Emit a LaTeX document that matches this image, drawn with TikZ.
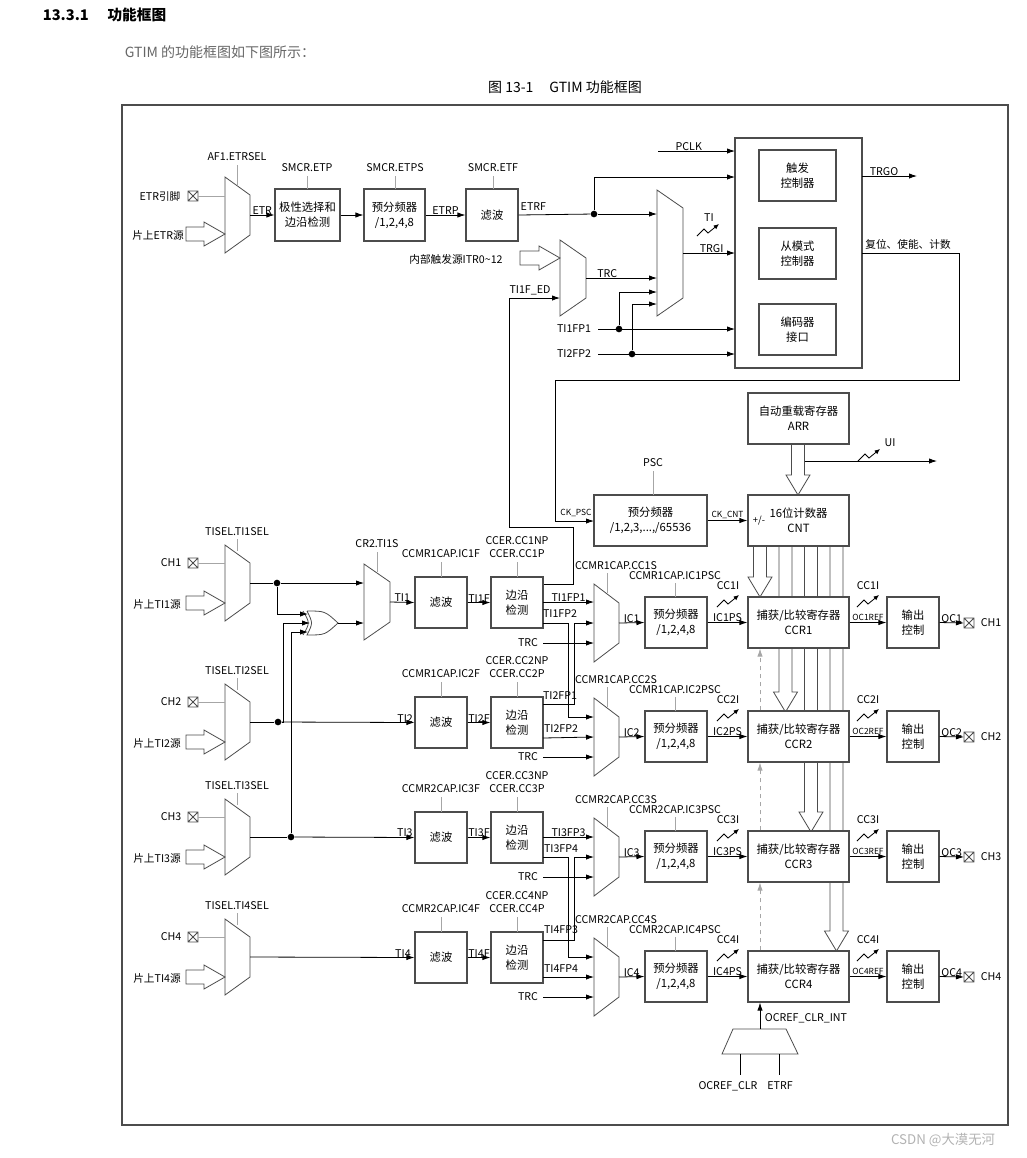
\documentclass[tikz,border=0pt]{standalone}
\usepackage{fontspec}
\setmainfont{Noto Sans CJK SC}
\usetikzlibrary{arrows.meta}
\newcommand\bx[6]{\node[box,minimum width={0.75pt*((#4)-(#2))},minimum height={0.75pt*((#5)-(#3))}] (#1) at ({((#2)+(#4))/2},{((#3)+(#5))/2}) {#6};}
\newcommand\mx[6]{\draw[muxs] (#2,#4-#5)--(#3,#4-#6)--(#3,#4+#6)--(#2,#4+#5)--cycle; \coordinate (#1) at ({(#2+#3)/2},#4);}
\newcommand\pinb[2]{\draw[gray!60!black] (#1-5,#2-5) rectangle (#1+5,#2+5) (#1-5,#2-5)--(#1+5,#2+5) (#1-5,#2+5)--(#1+5,#2-5);}
\newcommand\hha[3]{\draw[gray!60!black,fill=white] (#1,#3-7)--(#2-21,#3-7)--(#2-21,#3-12)--(#2,#3)--(#2-21,#3+12)--(#2-21,#3+7)--(#1,#3+7)--cycle;}
\newcommand\vha[4]{\draw[gray!60!black,fill=white] (#1-6.5,#2)--(#1-6.5,#3-20)--(#1-12,#3-20)--(#1,#3)--(#1+12,#3-20)--(#1+6.5,#3-20)--(#1+6.5,#2);}
\newcommand\bolt[2]{\draw[-{Latex[length=4pt,width=3.5pt]}] (#1,#2)--(#1+7,#2-7)--(#1+11,#2-3)--(#1+22,#2-12);}
\newcommand\tisel[2]{%
 \mx{ts#1}{225}{250}{#2}{38}{20}
 \node[lab] at (237,#2-51) {TISEL.TI#1SEL};
 \draw[sel] (237,#2-44)--(237,#2-32);
 \node[lab] at (171,#2-20) {CH#1}; \pinb{193}{#2-20}
 \draw[sel] (198,#2-20)--(225,#2-20);
 \hha{186}{225}{#2+20}
 \node[lab] at (157,#2+21) {片上TI#1源};}
\newcommand\icrow[4]{% n, yc, filter top, CCMR prefix
 \bx{flt#1}{415}{#3}{467}{#3+51}{滤波}
 \node[lab] at (441,#3-23) {#4.IC#1F}; \draw[sel] (441,#3-15)--(441,#3);
 \bx{edg#1}{491}{#3}{543}{#3+51}{边沿\\检测}
 \node[lab] at (517,#3-36) {CCER.CC#1NP}; \node[lab] at (517,#3-23) {CCER.CC#1P};
 \draw[sel] (517,#3-15)--(517,#3);
 \draw[ar] (flt#1.east)--(edg#1.west) node[lab,pos=.5,above=-1pt] {TI#1F};
 \mx{icm#1}{594}{619}{#2}{39}{20}
 \node[lab] at (616,#2-57) {#4.CC#1S}; \draw[sel] (607,#2-50)--(607,#2-30);
 \node[lab] at (528,#2+20) {TRC}; \draw[ar] (543,#2+20)--(594,#2+20);
 \bx{psc#1}{645}{#2-26}{707}{#2+25}{预分频器\\/1,2,4,8}
 \node[lab] at (675,#2-47) {#4.IC#1PSC}; \draw[sel] (675,#2-40)--(675,#2-26);
 \draw[ar] (619,#2)--(psc#1.west) node[lab,pos=.5,above=-1pt] {IC#1};
 \bx{ccr#1}{748}{#2-26}{849}{#2+25}{捕获/比较寄存器\\CCR#1}
 \draw[ar] (psc#1.east)--(ccr#1.west) node[lab,pos=.5,above=-1pt] {IC#1PS};
 \bolt{717}{#2-16} \node[lab] at (728,#2-37) {CC#1I};
 \bx{out#1}{887}{#2-26}{939}{#2+25}{输出\\控制}
 \draw[ar] (ccr#1.east)--(out#1.west) node[slab,pos=.5,above=0pt] {OC#1REF};
 \bolt{857}{#2-16} \node[lab] at (868,#2-37) {CC#1I};
 \pinb{969}{#2}
 \draw[ar] (out#1.east)--(964,#2) node[lab,pos=.5,above=-1pt] {OC#1};
 \node[lab] at (991,#2) {CH#1};}
\begin{document}
\begin{tikzpicture}[x=0.75pt,y=-0.75pt,line width=0.6pt,
 >={Latex[length=6pt,width=4pt]},
 box/.style={draw=gray!60!black,line width=0.8pt,fill=white,align=center,inner sep=0pt,font=\fontsize{8.5}{11}\selectfont},
 lab/.style={font=\fontsize{8}{9}\selectfont,inner sep=1pt},
 slab/.style={font=\fontsize{6.3}{7}\selectfont,inner sep=1pt},
 muxs/.style={draw=gray!60!black,fill=white},
 sel/.style={gray!70},
 ar/.style={->},
 dot/.style={circle,fill,inner sep=0pt,minimum size=5pt}]
\useasboundingbox (0,0) rectangle (1026,1158);
% header
\node[anchor=west,font=\bfseries\fontsize{11}{13}\selectfont] at (38,15) {13.3.1\hspace{14pt}功能框图};
\node[anchor=west,font=\fontsize{10.5}{13}\selectfont,text=gray!80!black] at (120,52) {GTIM 的功能框图如下图所示：};
\node[font=\fontsize{10.5}{13}\selectfont] at (565,87) {图 13-1\hspace{12pt}GTIM 功能框图};
\node[font=\fontsize{10}{12}\selectfont,text=gray!60] at (943,1140) {CSDN @大漠无河};
\draw[gray!60!black,line width=0.8pt] (122,105) rectangle (1008,1125);
% ===== top ETR chain
\mx{af1}{225}{250}{215}{38}{20}
\node[lab] at (237,157) {AF1.ETRSEL}; \draw[sel] (237,165)--(237,185);
\node[lab] at (160,196) {ETR引脚}; \pinb{193}{196} \draw[sel] (198,196)--(225,196);
\hha{186}{225}{234} \node[lab] at (158,235) {片上ETR源};
\bx{etp}{275}{189}{340}{241}{极性选择和\\边沿检测}
\bx{etps}{364}{189}{425}{241}{预分频器\\/1,2,4,8}
\bx{etf}{466}{189}{518}{241}{滤波}
\node[lab] at (307,168) {SMCR.ETP}; \draw[sel] (307,176)--(307,189);
\node[lab] at (395,168) {SMCR.ETPS}; \draw[sel] (395,176)--(395,189);
\node[lab] at (493,168) {SMCR.ETF}; \draw[sel] (493,176)--(493,189);
\draw[ar] (250,215)--(etp.west) node[lab,pos=.5,above=-1pt] {ETR};
\draw[ar] (etp.east)--(etps.west);
\draw[ar] (etps.east)--(etf.west) node[lab,pos=.5,above=-1pt] {ETRP};
% slave box
\node[box,minimum width={0.75pt*127},minimum height={0.75pt*230}] (smb) at (798.5,253) {};
\bx{trgc}{759}{150}{836}{201}{触发\\控制器}
\bx{slvc}{759}{228}{836}{279}{从模式\\控制器}
\bx{enc}{759}{304}{836}{355}{编码器\\接口}
\draw[ar] (658,151)--(735,151) node[lab,pos=.4,above=-1pt] {PCLK};
\draw[ar] (862,176)--(917,176) node[lab,pos=.4,above=-1pt] {TRGO};
% TRGI mux
\draw[muxs] (657,190)--(683,208)--(683,298)--(657,316)--cycle; \coordinate (trgim) at (670,253);
\mx{itrm}{560}{586}{278}{38}{20}
\node[dot] (d1) at (594,214) {};
\draw (etf.east)--(d1); \draw[ar] (d1)--(657,214);
\node[lab,anchor=south west] at (519,212) {ETRF};
\draw[ar] (d1)--(594,177)--(735,177);
\draw[ar] (683,253)--(735,253) node[lab,pos=.55,above=-1pt] {TRGI};
\bolt{697}{236} \node[lab] at (709,218) {TI};
\hha{520}{560}{258} \node[lab] at (456,259) {内部触发源ITR0\textasciitilde12};
\draw[ar] (586,278)--(657,278) node[lab,pos=.3,above=-1pt] {TRC};
\draw[ar] (543,584)--(573,584)--(573,527)--(509,527)--(509,298)--(560,298);
\node[lab] at (530,290) {TI1F\_ED};
\node[lab] at (574,329) {TI1FP1}; \node[lab] at (574,354) {TI2FP2};
\node[dot] (d2) at (619,329) {}; \node[dot] (d3) at (632,354) {};
\draw[ar] (598,329)--(735,329); \draw[ar] (598,354)--(735,354);
\draw[ar] (d2)--(619,292)--(657,292); \draw[ar] (d3)--(632,304)--(657,304);
\node[lab] at (908,244) {复位、使能、计数};
\draw[ar] (862,253)--(959,253)--(959,380)--(555,380)--(555,521)--(594,521);
\node[slab] at (576,513) {CK\_PSC};
% ARR / CNT
\vha{798}{444}{495}{}
\bx{arr}{748}{393}{849}{444}{自动重载寄存器\\ARR}
\draw[ar] (804.5,461)--(937,461); \bolt{858}{461} \node[lab] at (890,443) {UI};
\bx{cpsc}{594}{495}{707}{546}{预分频器\\/1,2,3,...,/65536}
\node[lab] at (653,463) {PSC}; \draw[sel] (653,471)--(653,495);
% counter shafts & hollow arrows
\vha{760}{546}{597}{}
\vha{785.5}{546}{712}{}
\vha{811}{546}{832}{}
\vha{836.5}{546}{951}{}
\bx{cnt}{748}{495}{849}{546}{16位计数器\\CNT}
\node[slab,font=\fontsize{7}{8}\selectfont] at (759,521) {+/-};
\draw[ar] (cpsc.east)--(cnt.west) node[slab,pos=.5,above=0pt] {CK\_CNT};
% rows
\icrow{1}{623}{577}{CCMR1CAP}
\icrow{2}{737}{697}{CCMR1CAP}
\icrow{3}{857}{812}{CCMR2CAP}
\icrow{4}{977}{932}{CCMR2CAP}
% dashed links
\draw[dashed,gray!70,->] (ccr2.north -| 760,0)--(ccr1.south -| 760,0);
\draw[dashed,gray!70,->] (ccr3.north -| 760,0)--(ccr2.south -| 760,0);
\draw[dashed,gray!70,->] (ccr4.north -| 760,0)--(ccr3.south -| 760,0);
% FP wiring
\draw[ar] (543,602)--(594,602) node[lab,pos=.5,above=-1pt] {TI1FP1};
\node[lab] at (560,614) {TI1FP2};
\draw[ar] (543,623)--(568,623)--(568,717)--(594,717);
\draw[ar] (543,704)--(574,704)--(574,623)--(594,623);
\node[lab] at (560,696) {TI2FP1};
\draw[ar] (543,738)--(594,737); \node[lab] at (561,729) {TI2FP2};
\draw[ar] (543,837)--(594,837) node[lab,pos=.5,above=-1pt] {TI3FP3};
\node[lab] at (561,849) {TI3FP4};
\draw[ar] (543,857)--(568,857)--(568,957)--(594,957);
\draw[ar] (543,940)--(574,940)--(574,857)--(594,857);
\node[lab] at (561,930) {TI4FP3};
\draw[ar] (543,977)--(594,977); \node[lab] at (561,969) {TI4FP4};
% TISEL muxes
\tisel{1}{583}\tisel{2}{722}\tisel{3}{837}\tisel{4}{957}
\mx{cr2}{364}{390}{602}{38}{20}
\node[lab] at (377,544) {CR2.TI1S}; \draw[sel] (377,552)--(377,572);
\node[dot] (t1) at (277,583) {}; \node[dot] (t2) at (278,722) {}; \node[dot] (t3) at (291,837) {};
\draw (250,583)--(t1); \draw[ar] (t1)--(364,583);
% XOR
\draw[gray!60!black] (303,611) .. controls (310,623) .. (303,635);
\draw[gray!60!black] (307,611) .. controls (325,611) .. (338,623) .. controls (325,635) .. (307,635) .. controls (313,623) .. (307,611);
\coordinate (xo) at (338,623);
\draw[ar] (xo)--(364,623);
\draw[ar] (t1)--(277,614)--(308,614);
\draw[ar] (t2)--(283,722)--(283,623)--(310,623);
\draw[ar] (t3)--(291,632)--(308,632);
\draw[ar] (cr2)++(13,0)--(flt1.west) node[lab,pos=.5,above=-1pt] {TI1};
\draw (250,722)--(t2); \draw[ar] (t2)--(flt2.west) node[lab,pos=.93,above=-1pt] {TI2};
\draw (250,837)--(t3); \draw[ar] (t3)--(flt3.west) node[lab,pos=.92,above=-1pt] {TI3};
\draw[ar] (250,957)--(flt4.west) node[lab,pos=.93,above=-1pt] {TI4};
% OCREF clear
\draw[gray!60!black] (733,1029)--(786,1029)--(798,1054)--(722,1054)--cycle;
\draw[ar] (760,1029)--(ccr4.south -| 760,0);
\node[lab] at (806,1018) {OCREF\_CLR\_INT};
\draw (740,1054)--(740,1075); \draw (779,1054)--(779,1075);
\node[lab] at (728,1086) {OCREF\_CLR}; \node[lab] at (780,1086) {ETRF};
\end{tikzpicture}
\end{document}
